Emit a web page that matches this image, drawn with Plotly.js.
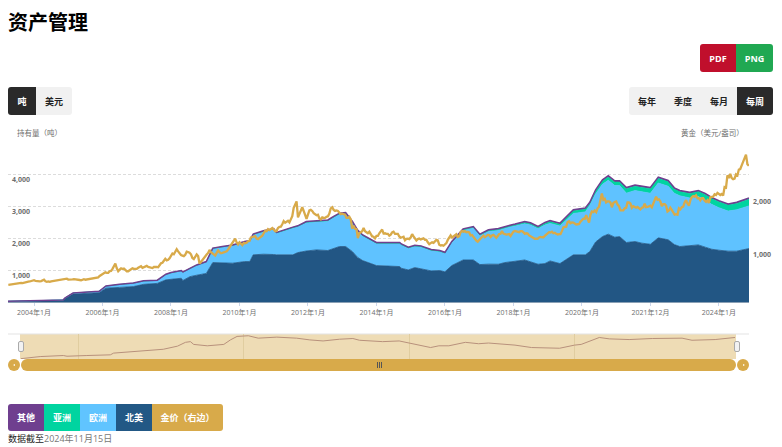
<!DOCTYPE html>
<html lang="zh"><head><meta charset="utf-8">
<script src="https://cdn.plot.ly/plotly-3.0.1.min.js"></script>
<style>
html,body{margin:0;padding:0;background:#fff;overflow:hidden;width:782px;height:447px;font-family:"Open Sans","Noto Sans CJK SC",sans-serif}
#chart{position:absolute;left:0;top:0;width:782px;height:447px}
.abs{position:absolute;box-sizing:border-box}
.btn{position:absolute;display:flex;align-items:center;justify-content:center;font-size:9px;font-weight:700;box-sizing:border-box;color:#222;background:#f1f1f1}
.on{background:#2a2a2a;color:#fff}
.lg{color:#fff}
</style></head><body>
<div id="chart"></div>
<div class="abs" style="left:8px;top:8px;font-size:20px;font-weight:700;color:#000;line-height:28px;font-family:'Noto Sans CJK SC'">资产管理</div>
<div class="btn lg" style="left:700px;top:44px;width:36px;height:28px;background:#c00f2c;border-radius:3px 0 0 3px">PDF</div>
<div class="btn lg" style="left:736px;top:44px;width:37px;height:28px;background:#20a852;border-radius:0 3px 3px 0">PNG</div>
<div class="btn on" style="left:8px;top:87px;width:28px;height:28px;border-radius:3px 0 0 3px">吨</div>
<div class="btn" style="left:36px;top:87px;width:36px;height:28px;border-radius:0 3px 3px 0">美元</div>
<div class="btn" style="left:629px;top:87px;width:36px;height:28px;border-radius:3px 0 0 3px">每年</div>
<div class="btn" style="left:665px;top:87px;width:36px;height:28px">季度</div>
<div class="btn" style="left:701px;top:87px;width:36px;height:28px">每月</div>
<div class="btn on" style="left:737px;top:87px;width:36px;height:28px;border-radius:0 3px 3px 0">每周</div>
<div class="abs" style="left:21px;top:359px;width:715px;height:12px;background:#d8aa4a;border-radius:6px"></div>
<div class="abs" style="left:8px;top:359px;width:12px;height:12px;background:#d8aa4a;border-radius:50%"></div>
<div class="abs" style="left:737px;top:359px;width:12px;height:12px;background:#d8aa4a;border-radius:50%"></div>
<div class="abs" style="left:12.5px;top:363.5px;width:0;height:0;border:1.6px solid transparent;border-right:2.4px solid #fff;border-left:0"></div>
<div class="abs" style="left:742.5px;top:363.5px;width:0;height:0;border:1.6px solid transparent;border-left:2.4px solid #fff;border-right:0"></div>
<div class="abs" style="left:376.5px;top:362px;width:5px;height:6px;border-left:1px solid #555;border-right:1px solid #555"><div class="abs" style="left:1px;top:0;width:1px;height:6px;background:#555"></div></div>
<div class="abs" style="left:17.5px;top:341px;width:6px;height:11px;background:#f2f2f2;border:1px solid #aaa;border-radius:2px"></div>
<div class="abs" style="left:733.5px;top:341px;width:6px;height:11px;background:#f2f2f2;border:1px solid #aaa;border-radius:2px"></div>
<div class="btn lg" style="left:8px;top:404px;width:36px;height:27px;background:#6f3f8f;border-radius:3px 0 0 3px">其他</div>
<div class="btn lg" style="left:44px;top:404px;width:36px;height:27px;background:#00d4a0">亚洲</div>
<div class="btn lg" style="left:80px;top:404px;width:36px;height:27px;background:#60c4ff">欧洲</div>
<div class="btn lg" style="left:116px;top:404px;width:36px;height:27px;background:#225885">北美</div>
<div class="btn lg" style="left:152px;top:404px;width:71px;height:27px;background:#d8aa4a;border-radius:0 3px 3px 0">金价（右边）</div>
<div class="abs" style="left:8px;top:432px;font-size:9px;line-height:14px;color:#777;white-space:nowrap"><span style="color:#222">数据截至</span>2024年11月15日</div>
<script>
var holdYears=[2003.24,2004.0,2004.85,2004.9,2005.14,2005.9,2006.1,2006.5,2006.9,2007.2,2007.6,2007.85,2008.0,2008.3,2008.35,2008.55,2008.75,2009.03,2009.22,2009.5,2009.8,2010.15,2010.3,2010.4,2010.7,2011.0,2011.08,2011.56,2011.7,2011.95,2012.25,2012.58,2012.75,2012.92,2013.1,2013.3,2013.45,2013.6,2014.0,2014.3,2014.68,2014.73,2014.93,2015.12,2015.3,2015.6,2015.85,2016.0,2016.2,2016.53,2016.83,2017.02,2017.27,2017.56,2017.75,2017.9,2018.05,2018.33,2018.5,2018.72,2018.92,2019.07,2019.36,2019.75,2020.1,2020.23,2020.4,2020.6,2020.77,2020.96,2021.1,2021.3,2021.55,2021.75,2022.0,2022.23,2022.52,2022.7,2022.86,2023.15,2023.4,2023.6,2023.79,2024.0,2024.27,2024.52,2024.88];
var northAmerica=[28,45,65,120,255,300,440,465,490,560,590,700,720,750,680,800,845,900,1240,1240,1220,1270,1270,1480,1500,1490,1480,1480,1550,1600,1635,1615,1690,1740,1740,1580,1400,1300,1145,1135,1115,1060,1010,1083,1050,980,990,950,1145,1320,1320,1177,1190,1187,1240,1250,1280,1320,1260,1187,1208,1290,1208,1480,1480,1583,1880,2050,2125,2030,2050,1865,1895,1845,1810,2010,1950,1800,1740,1770,1790,1720,1655,1625,1595,1595,1677];
var europe=[2,5,5,15,30,40,60,85,100,100,90,155,190,220,250,240,300,350,430,480,550,600,630,630,700,780,670,835,805,880,875,915,950,1000,1020,900,810,760,680,690,710,720,670,657,670,625,585,570,715,920,995,900,1020,1055,1070,1095,1100,1130,1150,1108,1200,1170,1170,1290,1340,1440,1500,1630,1680,1610,1590,1540,1590,1595,1590,1710,1670,1600,1580,1485,1510,1470,1400,1325,1250,1290,1330];
var asia=[0,0,0,0,3,3,5,5,5,5,5,10,10,10,10,10,10,10,10,10,10,12,10,10,15,15,15,15,15,20,20,20,20,20,20,20,20,20,20,20,20,20,20,20,20,20,20,20,20,25,25,24,25,30,30,30,30,40,40,40,50,58,60,85,90,67,100,110,110,115,115,140,135,140,145,150,145,135,135,140,155,175,180,185,190,200,210];
var other=[0,0,0,0,2,2,5,5,5,5,5,10,10,10,10,10,10,10,10,10,10,13,15,10,15,15,15,15,15,20,20,20,20,20,20,20,20,20,20,20,20,20,20,20,20,20,20,20,20,25,25,24,25,28,30,30,30,30,30,30,32,32,32,30,30,30,30,30,35,35,35,35,35,35,35,35,35,35,35,35,35,35,35,35,35,35,35];
var gold2003=[330,335,332,340,350,352,348,352,360,365,362,372,378,385,388,392,398,405];
var gold2004=[415,405,400,405,395,400,420,425,395,385,392,385,395,400,400,405,405,415,420,425,430,440,450,445];
var gold2005=[428,425,420,430,435,428,432,425,420,415,425,435,425,430,435,440,445,455,465,470,465,470,495,510];
var gold2006=[535,555,565,555,555,585,590,630,670,730,640,585,615,640,625,635,610,585,585,600,625,640,630,625];
var gold2007=[630,650,665,680,650,660,680,685,665,655,650,645,665,670,665,660,700,735,745,780,820,790,800,830];
var gold2008=[880,920,905,950,1000,960,925,890,880,870,895,955,945,935,905,835,815,850,900,870,730,760,800,820];
var gold2009=[865,900,930,985,945,920,900,880,930,975,945,925,930,945,945,960,995,1040,1060,1130,1170,1200,1130,1090];
var gold2010=[1130,1095,1075,1120,1110,1120,1150,1155,1220,1230,1235,1245,1200,1190,1215,1235,1255,1300,1345,1340,1380,1360,1385,1400];
var gold2011=[1370,1340,1345,1400,1420,1425,1470,1530,1500,1515,1535,1505,1570,1620,1780,1840,1900,1600,1670,1720,1790,1720,1650,1570];
var gold2012=[1650,1730,1740,1720,1680,1660,1640,1650,1580,1560,1600,1590,1590,1610,1620,1670,1770,1790,1740,1720,1730,1720,1690,1660];
var gold2013=[1670,1665,1650,1590,1590,1610,1560,1390,1440,1385,1380,1210,1300,1320,1340,1400,1340,1320,1300,1330,1290,1240,1235,1205];
var gold2014=[1250,1250,1300,1330,1370,1295,1300,1290,1290,1255,1275,1315,1330,1290,1295,1290,1240,1215,1225,1235,1170,1195,1200,1190];
var gold2015=[1220,1285,1240,1210,1165,1190,1200,1185,1190,1205,1175,1175,1130,1095,1115,1130,1120,1145,1175,1165,1085,1070,1075,1065];
var gold2016=[1100,1115,1175,1225,1260,1220,1240,1260,1280,1230,1245,1320,1340,1330,1340,1320,1325,1315,1260,1265,1225,1180,1160,1140];
var gold2017=[1180,1200,1230,1255,1225,1245,1270,1265,1230,1260,1270,1245,1215,1250,1285,1290,1340,1295,1280,1275,1280,1285,1250,1295];
var gold2018=[1330,1345,1340,1325,1320,1340,1340,1320,1290,1300,1295,1260,1240,1225,1210,1195,1200,1195,1220,1230,1225,1225,1250,1280];
var gold2019=[1290,1320,1315,1330,1300,1310,1290,1275,1285,1285,1340,1410,1420,1425,1510,1525,1490,1505,1500,1490,1465,1470,1475,1520];
var gold2020=[1560,1575,1570,1640,1570,1500,1650,1710,1700,1730,1700,1770,1800,1960,2050,1930,1950,1880,1900,1900,1880,1790,1870,1890];
var gold2021=[1900,1840,1810,1730,1730,1730,1770,1780,1880,1880,1860,1780,1810,1800,1780,1795,1780,1750,1780,1790,1860,1790,1795,1810];
var gold2022=[1820,1790,1860,1900,1990,1930,1940,1900,1810,1850,1850,1820,1710,1730,1780,1740,1700,1650,1660,1650,1770,1750,1790,1800];
var gold2023=[1880,1925,1860,1820,1920,1980,2000,1990,2015,1960,1960,1920,1960,1960,1915,1890,1920,1870,1980,1990,1990,2035,2020,2060];
var gold2024=[2045,2020,2040,2010,2170,2160,2390,2340,2420,2340,2320,2330,2410,2390,2500,2510,2580,2650,2730,2780,2600,2570];
var navigatorYears=[2003.27,2003.85,2004.55,2004.66,2005.26,2005.97,2006.07,2006.88,2007.57,2008.0,2008.24,2008.39,2008.49,2008.9,2009.4,2009.6,2009.8,2010.14,2010.44,2011.0,2011.6,2012.0,2012.4,2012.9,2013.3,2013.5,2014.2,2014.7,2014.8,2015.2,2015.65,2015.9,2016.2,2016.7,2017.1,2017.4,2018.2,2018.7,2019.55,2020.0,2020.2,2020.75,2021.05,2021.65,2022.35,2023.25,2023.55,2024.25,2024.85];
var navigatorLine=[1,7,10,8,10,12,17,22,28,37,48,50,42,38,42,55,65,67,60,63,60,55,52,57,59,54,50,52,50,42,33,38,38,48,44,46,40,33,31,40,42,62,58,56,59,60,54,56,62];
var xTickVals=[2004,2006,2008,2010,2012,2014,2016,2018,2020,2022,2024];
var xTickText=['2004年1月','2006年1月','2008年1月','2010年1月','2012年1月','2014年1月','2016年1月','2018年1月','2020年1月','2021年12月','2024年1月'];
var navigatorGrid=[2005,2010,2015,2020];
var seriesNames=['北美','欧洲','亚洲','其他','金价（右边）'];
var seriesColors=['#225684','#5fc2ff','#00d4a0','#6f3f8f','#d8aa4a'];

var W=782,H=447,grey='#6e6e6e',cn='"Open Sans","Noto Sans CJK SC",sans-serif';
var xPx=function(a,b){return [a/W,b/W]},yPx=function(t,b){return [1-b/H,1-t/H]};
var goldByYear=[gold2004,gold2005,gold2006,gold2007,gold2008,gold2009,gold2010,gold2011,gold2012,gold2013,gold2014,gold2015,gold2016,gold2017,gold2018,gold2019,gold2020,gold2021,gold2022,gold2023,gold2024];
var goldX=gold2003.map(function(_,i){return 2003.25+i/24}),goldY=gold2003.slice();
goldByYear.forEach(function(arr,k){arr.forEach(function(v,i){goldX.push(2004+k+i/24);goldY.push(v)})});
var stack=[northAmerica,europe,asia,other];
var traces=stack.map(function(v,i){return {type:'scatter',x:holdYears,y:v,name:seriesNames[i],stackgroup:'one',mode:'lines',line:{width:i==3?1.5:0.8,color:seriesColors[i]},fillcolor:seriesColors[i],xaxis:'x',yaxis:'y',hoverinfo:'skip'}});
traces.push({type:'scatter',x:goldX,y:goldY,name:seriesNames[4],mode:'lines',line:{color:seriesColors[4],width:2.3},xaxis:'x',yaxis:'y2',hoverinfo:'skip'});
traces.push({type:'scatter',x:navigatorYears,y:navigatorLine,mode:'lines',line:{color:'#b8917c',width:1},xaxis:'x2',yaxis:'y3',hoverinfo:'skip'});
var tickFont={family:cn,size:7,color:grey,weight:700};
var layout={width:W,height:H,margin:{l:0,r:0,t:0,b:0,pad:0},showlegend:false,paper_bgcolor:'rgba(0,0,0,0)',plot_bgcolor:'rgba(0,0,0,0)',
xaxis:{domain:xPx(8,749),range:[2003.24,2024.88],tickmode:'array',tickvals:xTickVals,ticktext:xTickText,tickfont:{family:cn,size:7,color:grey},ticks:'outside',ticklen:3,tickcolor:'#ccd6eb',showgrid:false,showline:true,linecolor:'#8aa0b5',linewidth:1,zeroline:false,anchor:'y'},
yaxis:{domain:yPx(142,302.3),range:[0,5000],tickmode:'array',tickvals:[1000,2000,3000,4000,5000],ticktext:['1,000','2,000','3,000','4,000',''],ticklabelshift:5,ticklabelstandoff:-23,tickfont:tickFont,ticks:'',showgrid:true,gridcolor:'#dcdcdc',griddash:'3px,2px',gridwidth:1,zeroline:false,showline:false,anchor:'x'},
yaxis2:{domain:yPx(142,302.3),overlaying:'y',side:'right',anchor:'x',range:[0,3019],tickmode:'array',tickvals:[1000,2000],ticktext:['1,000','2,000'],ticklabelshift:5,ticklabelstandoff:3,tickfont:tickFont,ticks:'',showgrid:false,zeroline:false,showline:false},
xaxis2:{domain:xPx(20,736),range:[2003.24,2024.88],anchor:'y3',tickmode:'array',tickvals:navigatorGrid,showticklabels:false,ticks:'',showgrid:true,gridcolor:'#e0cda0',zeroline:false,showline:false},
yaxis3:{domain:yPx(334,359),range:[0,72],anchor:'x2',showticklabels:false,ticks:'',showgrid:false,zeroline:false,showline:false},
shapes:[
{type:'rect',xref:'paper',yref:'paper',x0:20/W,x1:736/W,y0:1-359/H,y1:1-334/H,fillcolor:'#eedcb5',line:{width:0},layer:'below'},
{type:'line',xref:'paper',yref:'paper',x0:8/W,x1:749/W,y0:1-334/H,y1:1-334/H,line:{color:'#e3e3e3',width:1},layer:'below'}
],
annotations:[
{xref:'paper',yref:'paper',x:15/W,y:1-133/H,text:'持有量（吨）',showarrow:false,xanchor:'left',yanchor:'middle',font:{family:cn,size:7.5,color:grey}},
{xref:'paper',yref:'paper',x:746/W,y:1-133/H,text:'黄金（美元/盎司）',showarrow:false,xanchor:'right',yanchor:'middle',font:{family:cn,size:7.5,color:grey}}
]};
Plotly.newPlot('chart',traces,layout,{displayModeBar:false,staticPlot:true});
</script>
</body></html>
